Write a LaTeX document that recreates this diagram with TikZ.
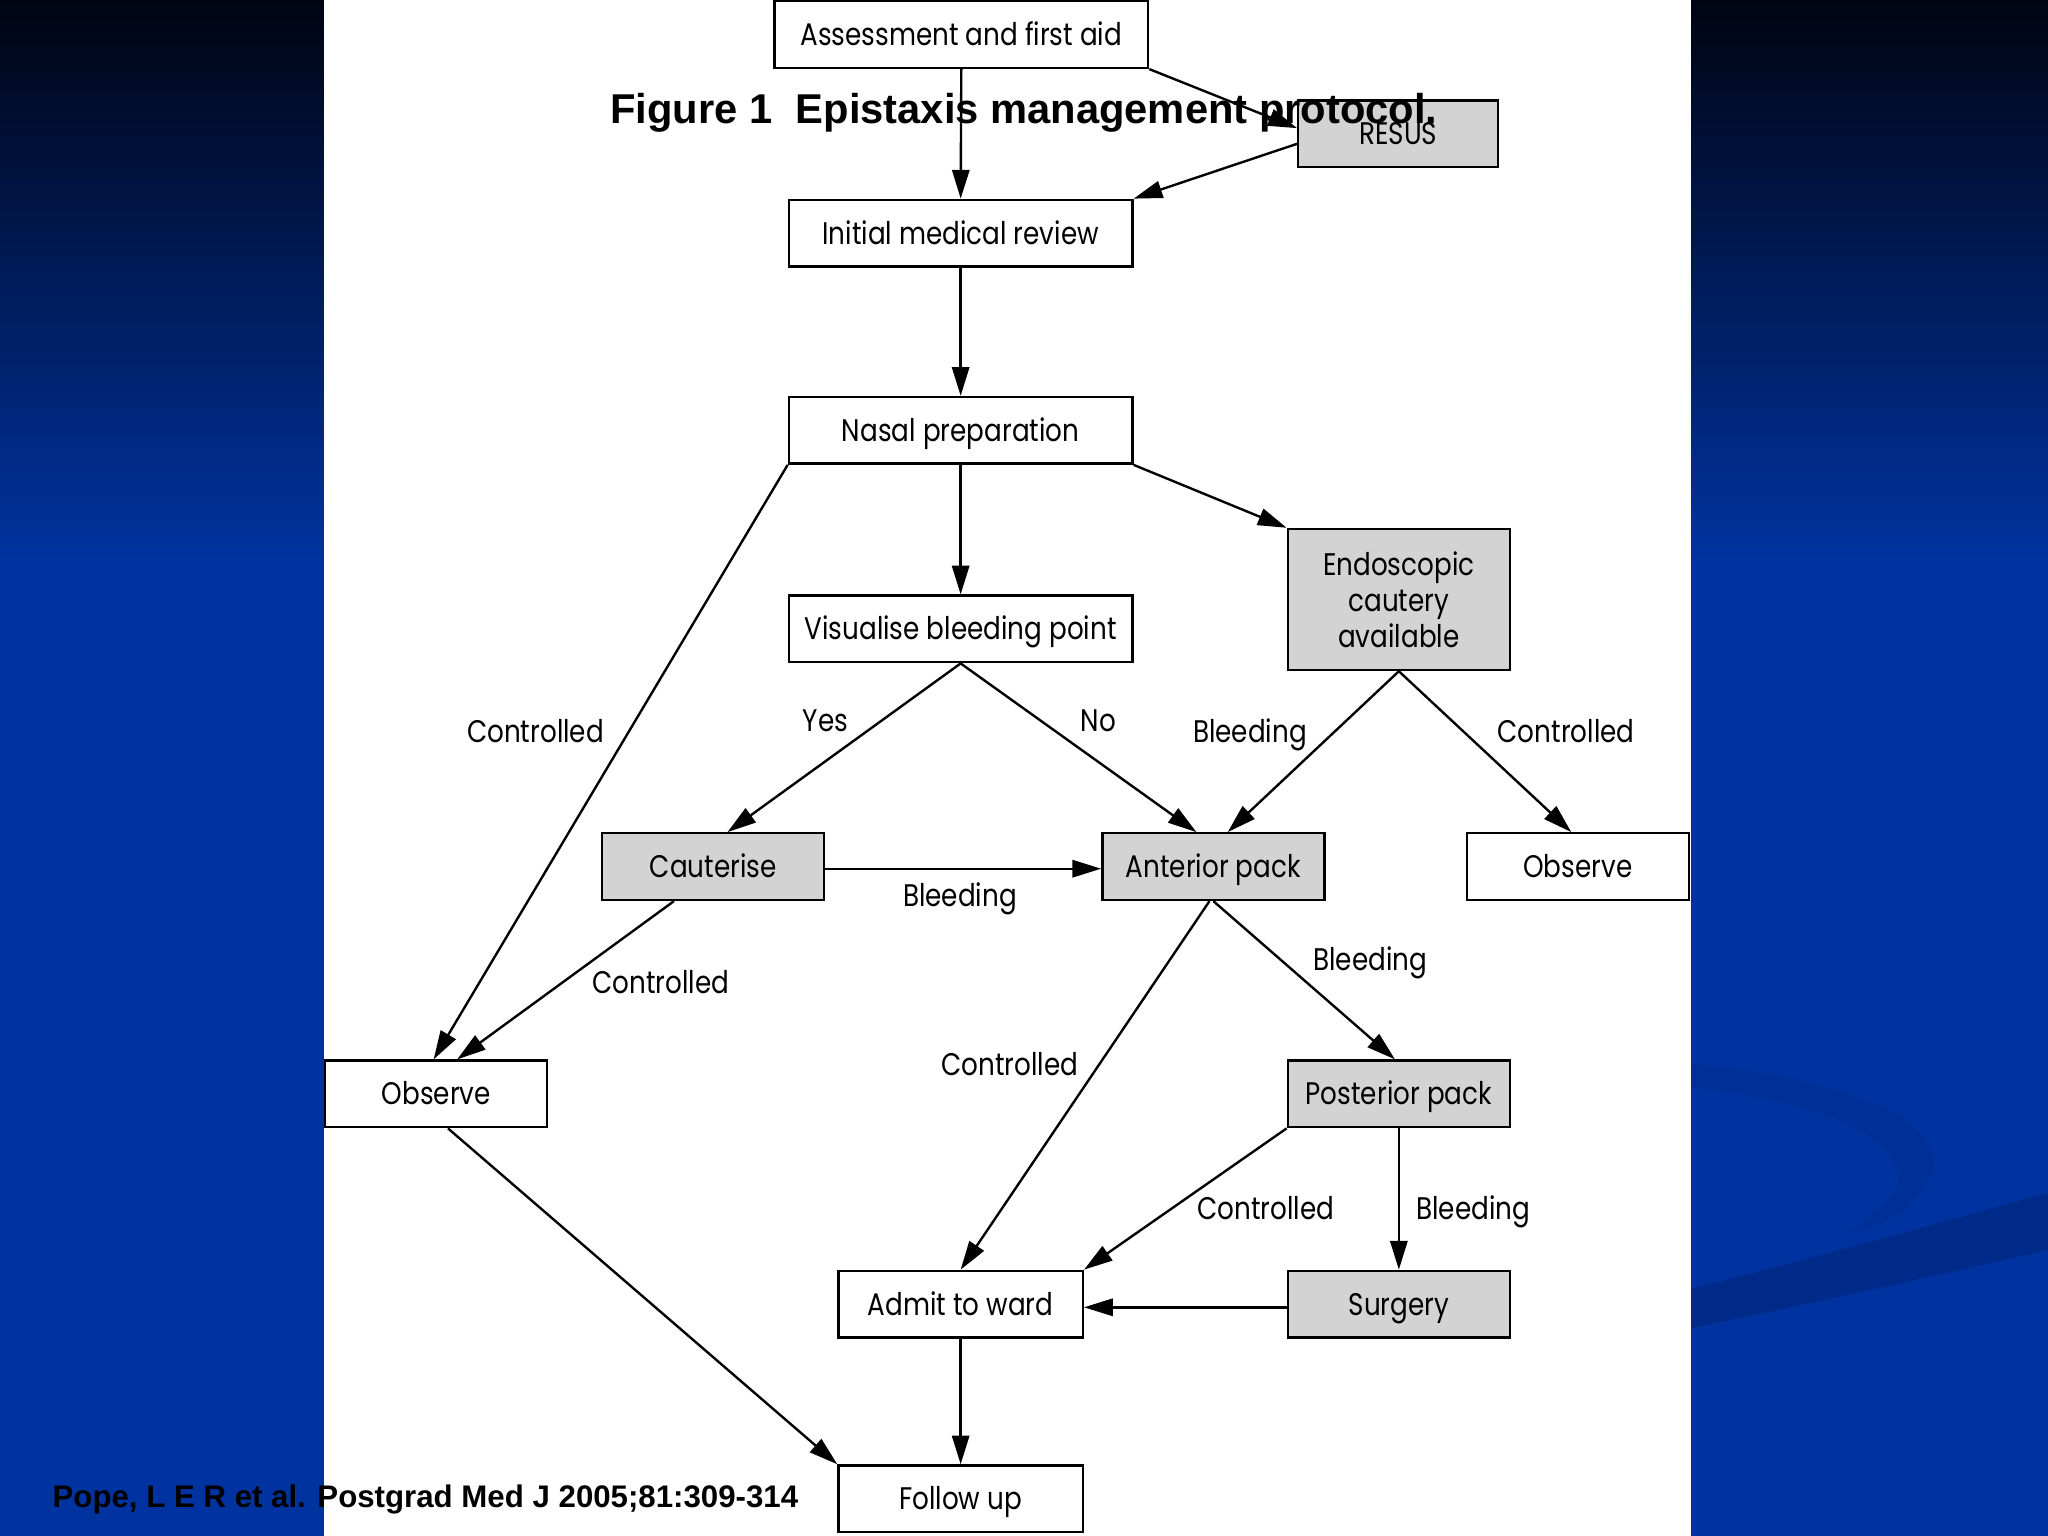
\documentclass[tikz,border=0pt]{standalone}
\usepackage{fontspec}
\setmainfont{Liberation Sans}
\newfontfamily\futfont[FakeStretch=0.84]{Poppins}
\usetikzlibrary{arrows.meta,positioning}
\definecolor{slideBlue}{RGB}{0,51,160}
\definecolor{slideDark}{RGB}{0,4,18}
\definecolor{swooshBlue}{RGB}{0,42,138}
\definecolor{arcBlue}{RGB}{0,47,152}
\definecolor{boxGrey}{RGB}{211,211,211}

\begin{document}
\begin{tikzpicture}[x=0.025cm,y=-0.025cm,
    box/.style={draw=black,fill=white,line width=1.3pt,inner sep=0pt,
                minimum width=4.25cm,minimum height=1.275cm,align=center,
                text height=11.9pt,text depth=0pt,
                font=\futfont\fontsize{17}{19.5}\selectfont},
    greybox/.style={box,fill=boxGrey},
    lbl/.style={inner sep=0pt,text height=11.9pt,text depth=0pt,
                font=\futfont\fontsize{17}{19.5}\selectfont},
    flow/.style={line width=1.3pt,-{Triangle[length=5.5mm,width=3.3mm]}}
  ]
  % slide background
  \useasboundingbox (0,0) rectangle (1568,1176);
  \fill[slideBlue] (0,0) rectangle (1568,1176);
  \fill[top color=slideDark,bottom color=slideBlue] (0,0) rectangle (1568,430);
  \fill[swooshBlue] (1290,988) .. controls (1400,960) and (1490,935) .. (1568,913)
    -- (1568,957) .. controls (1490,975) and (1400,995) .. (1290,1018) -- cycle;
  \fill[arcBlue] (1290,814) .. controls (1420,826) and (1495,860) .. (1478,900)
    .. controls (1468,925) and (1440,940) .. (1414,944)
    .. controls (1440,928) and (1458,910) .. (1452,895)
    .. controls (1440,862) and (1380,842) .. (1290,832) -- cycle;
  \fill[white] (248,0) rectangle (1295,1176);

  % boxes
  \node[box,minimum width=7.15cm] (assess) at (736,26.5) {Assessment and first aid};
  \node[greybox,minimum width=3.825cm] (resus) at (1070.5,102.5) {RESUS};
  \node[box,minimum width=6.575cm] (review) at (735.5,178.5) {Initial medical review};
  \node[box,minimum width=6.575cm] (nasal) at (735.5,329.5) {Nasal preparation};
  \node[greybox,minimum height=2.7cm,text height={},text depth={}] (endo) at (1071,459)
    {Endoscopic\\cautery\\available};
  \node[box,minimum width=6.575cm] (visual) at (735.5,481.5) {Visualise bleeding point};
  \node[greybox] (cauter) at (546,663.5) {Cauterise};
  \node[greybox] (anterior) at (929,663.5) {Anterior pack};
  \node[box] (observeR) at (1208,663.5) {Observe};
  \node[box] (observeL) at (334,837.5) {Observe};
  \node[greybox] (posterior) at (1071,837.5) {Posterior pack};
  \node[box,minimum width=4.675cm] (admit) at (735.5,998.5) {Admit to ward};
  \node[greybox] (surgery) at (1071,998.5) {Surgery};
  \node[box,minimum width=4.675cm] (follow) at (735.5,1147.5) {Follow up};

  % connectors
  \draw[flow] (assess.south) -- (review.north);
  \draw[flow] (assess.south east) -- ([yshift=1.1mm]resus.west);
  \draw[flow] ([yshift=-1.9mm]resus.west) -- (review.north east);
  \draw[flow] (review.south) -- (nasal.north);
  \draw[flow] (nasal.south) -- (visual.north);
  \draw[flow] (nasal.south east) -- (endo.north west);
  \draw[flow] (nasal.south west) -- ([xshift=-0.5mm]observeL.north);
  \draw[flow] (visual.south) -- ([xshift=2.75mm]cauter.north);
  \draw[flow] (visual.south) -- ([xshift=-3.25mm]anterior.north);
  \draw[flow] (endo.south) -- ([xshift=2.75mm]anterior.north);
  \draw[flow] (endo.south) -- ([xshift=-1.25mm]observeR.north);
  \draw[flow] ([yshift=-0.4mm]cauter.east) -- ([yshift=-0.4mm]anterior.west);
  \draw[flow] ([xshift=-7.5mm]cauter.south) -- ([xshift=4mm]observeL.north);
  \draw[flow] ([xshift=-0.75mm]anterior.south) -- (admit.north);
  \draw[flow] (anterior.south) -- ([xshift=-0.75mm]posterior.north);
  \draw[flow] (posterior.south west) -- (admit.north east);
  \draw[flow] (posterior.south) -- (surgery.north);
  \draw[flow] ([yshift=-0.6mm]surgery.west) -- ([yshift=-0.6mm]admit.east);
  \draw[flow] ([xshift=2.25mm]observeL.south) -- (follow.north west);
  \draw[flow] (admit.south) -- (follow.north);

  % connector labels
  \node[lbl] (lNasalCtrl) at (410,560) {Controlled};
  \node[lbl] (lYes) at (632,552) {Yes};
  \node[lbl] (lNo) at (841,552) {No};
  \node[lbl] (lEndoBleed) at (957,560) {Bleeding};
  \node[lbl] (lEndoCtrl) at (1199,560) {Controlled};
  \node[lbl] (lCautBleed) at (735,686) {Bleeding};
  \node[lbl] (lCautCtrl) at (506,752) {Controlled};
  \node[lbl] (lAntCtrl) at (773,815) {Controlled};
  \node[lbl] (lAntBleed) at (1049,735) {Bleeding};
  \node[lbl] (lPostCtrl) at (969,925) {Controlled};
  \node[lbl] (lPostBleed) at (1128,925) {Bleeding};

  % slide title and source
  \node[font=\bfseries\fontsize{22.7}{27}\selectfont] (title) at (784,86)
    {Figure 1~\ Epistaxis management protocol.};
  \node[font=\bfseries\fontsize{17}{20}\selectfont,anchor=west,inner sep=0pt] (source)
    at (40,1148) {Pope, L E R et al. Postgrad Med J 2005;81:309-314};
\end{tikzpicture}
\end{document}
